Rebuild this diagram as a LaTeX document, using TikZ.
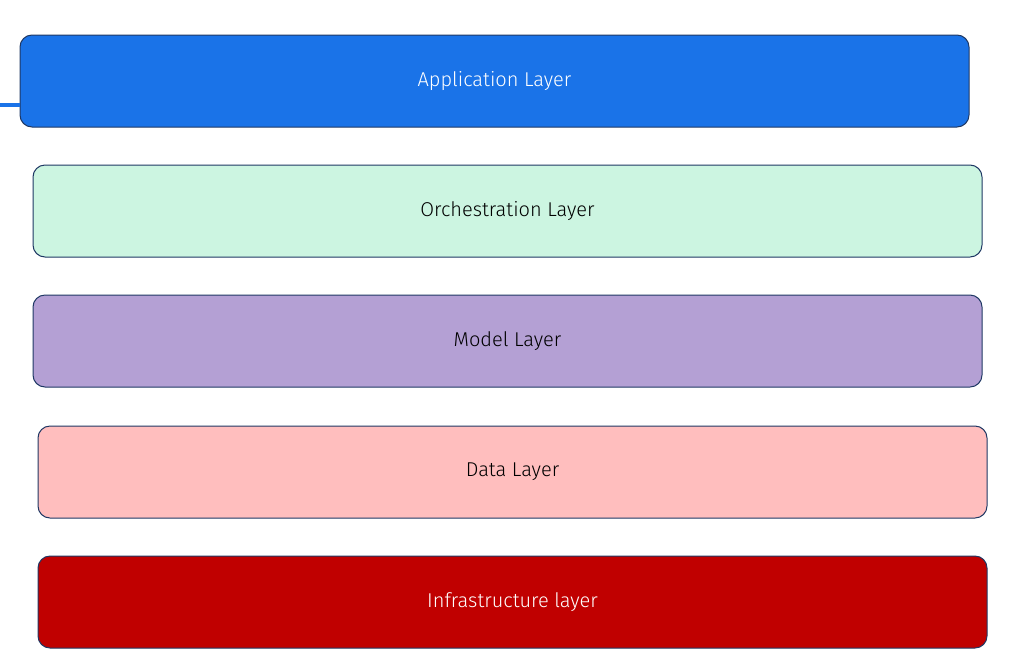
\documentclass[tikz,border=0pt]{standalone}
\usepackage{fontspec}
\setmainfont{Fira Sans Light}
\definecolor{edge}{HTML}{1F3864}
\definecolor{appc}{HTML}{1A73E8}
\definecolor{orchc}{HTML}{CCF5E1}
\definecolor{modc}{HTML}{B4A0D4}
\definecolor{datac}{HTML}{FFBEBE}
\definecolor{infc}{HTML}{C00000}
\begin{document}
\begin{tikzpicture}[x=1pt,y=-1pt,
  layer/.style={draw=edge,line width=1pt,rounded corners=12pt,minimum width=949pt,minimum height=92pt,font=\fontsize{20}{24}\selectfont,inner sep=0pt}]
\useasboundingbox (0,0) rectangle (1024,670);
\node[layer,fill=appc,text=white] (app) at (494.5,81) {Application Layer};
\node[layer,fill=orchc,text=black] (orch) at (507.5,211) {Orchestration Layer};
\node[layer,fill=modc,text=black] (mod) at (507.5,341) {Model Layer};
\node[layer,fill=datac,text=black] (data) at (512.5,472) {Data Layer};
\node[layer,fill=infc,text=white] (inf) at (512.5,602) {Infrastructure layer};
\coordinate (lft) at (0,105);
\draw[appc,line width=4pt] (lft) -- (app.west |- lft);
\end{tikzpicture}
\end{document}
